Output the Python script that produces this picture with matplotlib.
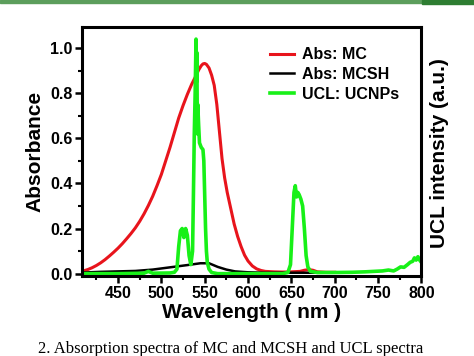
import matplotlib
matplotlib.use("Agg")
import matplotlib.pyplot as plt
from matplotlib.patches import Rectangle
from matplotlib.ticker import MultipleLocator

plt.rcParams['font.family'] = ['Liberation Sans', 'DejaVu Sans']
plt.rcParams['font.weight'] = 'bold'

# Abs: MC (red)
mc_wl = [410, 415, 420, 425, 430, 435, 440, 445, 450, 455, 460, 465, 470, 475, 480, 485,
         490, 495, 500, 505, 510, 515, 520, 525, 530, 535, 540, 543, 546, 548, 550, 552,
         555, 558, 561, 564, 567, 570, 573, 576, 580, 584, 588, 592, 596, 600, 605, 610,
         615, 620, 630, 640, 650, 660, 665, 670, 675, 680, 690, 700]
mc_abs = [0.012, 0.018, 0.026, 0.036, 0.048, 0.062, 0.078, 0.095, 0.113, 0.133, 0.155,
          0.178, 0.203, 0.232, 0.265, 0.302, 0.343, 0.39, 0.44, 0.50, 0.56, 0.625, 0.69,
          0.745, 0.795, 0.84, 0.878, 0.903, 0.922, 0.93, 0.932, 0.928, 0.912, 0.88, 0.835,
          0.75, 0.63, 0.51, 0.425, 0.36, 0.29, 0.22, 0.165, 0.12, 0.082, 0.056, 0.034,
          0.021, 0.014, 0.01, 0.008, 0.007, 0.008, 0.01, 0.015, 0.018, 0.015, 0.008, 0.006,
          0.006]

# Abs: MCSH (black)
mcsh_wl = [410, 430, 450, 470, 490, 510, 530, 545, 555, 565, 575, 585, 600, 620, 650, 700]
mcsh_abs = [0.005, 0.008, 0.01, 0.012, 0.018, 0.028, 0.038, 0.046, 0.046, 0.03, 0.018,
            0.01, 0.006, 0.004, 0.004, 0.004]

# UCL: UCNPs (green, arbitrary units)
ucl_wl = [410, 450, 480, 485, 490, 510, 515, 518, 520, 522, 524, 526, 528, 530, 532, 534,
          536, 537, 538, 539, 540, 540.5, 541, 541.5, 542, 543, 544, 546, 548, 549, 550, 551,
          552, 553, 555, 558, 565, 600, 640, 646, 649, 651, 653, 654.5, 656, 657.5, 659, 661,
          663, 665, 667, 669, 672, 680, 700, 720, 735, 745, 755, 762, 768, 772, 776, 780,
          784, 787, 790, 792, 794, 796, 798, 800]
ucl_int = [0.0, 0.0, 0.002, 0.01, 0.002, 0.003, 0.006, 0.02, 0.12, 0.19, 0.20, 0.16, 0.20,
           0.17, 0.08, 0.04, 0.10, 0.35, 0.62, 0.80, 1.04, 0.85, 0.98, 0.62, 0.75, 0.66,
           0.58, 0.56, 0.55, 0.50, 0.35, 0.20, 0.10, 0.05, 0.02, 0.005, 0.0, 0.0, 0.0, 0.005,
           0.04, 0.20, 0.36, 0.39, 0.34, 0.36, 0.35, 0.33, 0.30, 0.20, 0.08, 0.03, 0.01,
           0.005, 0.005, 0.006, 0.008, 0.01, 0.012, 0.016, 0.012, 0.02, 0.03, 0.028, 0.04,
           0.05, 0.055, 0.07, 0.06, 0.075, 0.06, 0.05]

x_ticks = [450, 500, 550, 600, 650, 700, 750, 800]
y_ticks = [0.0, 0.2, 0.4, 0.6, 0.8, 1.0]
labels = ['Abs: MC', 'Abs: MCSH', 'UCL: UCNPs']

fig = plt.figure(figsize=(4.74, 3.56), dpi=100)
ax = fig.add_axes([0.174, 0.225, 0.715, 0.70])

ax.plot(mc_wl, mc_abs, color='#e8141c', lw=2.2, label=labels[0])
ax.plot(mcsh_wl, mcsh_abs, color='black', lw=1.8, label=labels[1])
ax.plot(ucl_wl, ucl_int, color='#18f018', lw=2.6, label=labels[2])

ax.set_xlim(409, 800)
ax.set_ylim(-0.01, 1.095)
ax.set_xticks(x_ticks)
ax.set_yticks(y_ticks)
ax.set_yticklabels([f'{v:.1f}' for v in y_ticks])
ax.xaxis.set_minor_locator(MultipleLocator(25))
ax.yaxis.set_minor_locator(MultipleLocator(0.1))
ax.tick_params(which='major', direction='out', length=5, width=1.8, labelsize=11.5, pad=2)
ax.tick_params(which='minor', direction='out', length=3, width=1.5)
for s in ax.spines.values():
    s.set_linewidth(2.2)

ax.set_xlabel('Wavelength ( nm )', fontsize=15, fontweight='bold', labelpad=2)
ax.set_ylabel('Absorbance', fontsize=15, fontweight='bold', labelpad=4)
fig.text(0.928, 0.57, 'UCL intensity (a.u.)', rotation=90, fontsize=15, fontweight='bold',
         ha='center', va='center')

leg = ax.legend(loc='upper left', bbox_to_anchor=(0.53, 0.95), frameon=False,
                fontsize=11.5, handlelength=1.5, handletextpad=0.5, labelspacing=0.3,
                borderpad=0)

# page decoration: green strip at top and caption line at bottom
fig.patches.append(Rectangle((0, 1 - 3/356), 422/474, 3/356, transform=fig.transFigure,
                             color='#5c9e5c', zorder=0))
fig.patches.append(Rectangle((422/474, 1 - 4/356), 52/474, 4/356, transform=fig.transFigure,
                             color='#2e7d32', zorder=0))
fig.text(38/474, 1 - 341/356, '2. Absorption spectra of MC and MCSH and UCL spectra',
         fontsize=12, family='Liberation Serif', fontweight='normal', va='top', ha='left')

fig.savefig('out.png', dpi=100)
